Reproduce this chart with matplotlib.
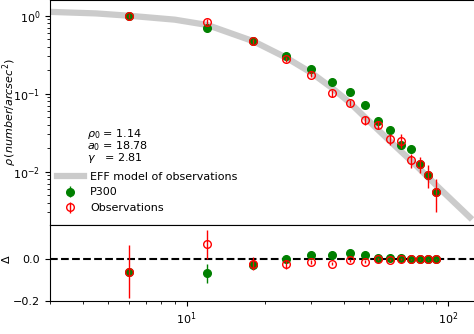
import numpy as np
import matplotlib
matplotlib.use("Agg")
import matplotlib.pyplot as plt

plt.rcParams['font.size'] = 8

# radii of the bins (arcsec)
r = [6, 12, 18, 24, 30, 36, 42, 48, 54, 60, 66, 72, 78, 84, 90]

# surface density, P300 model
rho_p300 = [1.0, 0.69, 0.47, 0.30, 0.207, 0.14, 0.106, 0.0716, 0.045,
            0.0343, 0.022, 0.0194, 0.0126, 0.0091, 0.0055]
err_p300 = [0.02, 0.02, 0.012, 0.008, 0.005, 0.004, 0.003, 0.002, 0.0015,
            0.0012, 0.001, 0.0008, 0.0006, 0.0005, 0.0004]

# surface density, observations
rho_obs = [1.0, 0.84, 0.47, 0.275, 0.175, 0.101, 0.077, 0.046, 0.0398,
           0.026, 0.025, 0.0141, 0.0126, 0.0091, 0.0055]
err_obs = [0.06, 0.075, 0.03, 0.02, 0.012, 0.01, 0.007, 0.006, 0.005,
           0.0043, 0.005, 0.003, 0.003, 0.003, 0.0025]

# EFF model curve
r_model = [3, 4.5, 6, 9, 12, 18, 24, 30, 36, 42, 48, 60, 75, 90, 121]
rho_model = [1.12, 1.07, 1.0, 0.89, 0.76, 0.47, 0.29, 0.185, 0.118, 0.077,
             0.05, 0.0245, 0.0122, 0.0067, 0.0026]

# residuals
d_p300 = [-0.059, -0.067, -0.025, 0.0, 0.019, 0.019, 0.029, 0.019, 0.005,
          0.008, 0.005, 0.002, 0.0, 0.0, 0.0]
derr_p300 = [0.01, 0.045, 0.02, 0.006, 0.005, 0.004, 0.004, 0.003, 0.003,
             0.002, 0.002, 0.002, 0.002, 0.002, 0.002]
d_obs = [-0.059, 0.072, -0.02, -0.024, -0.013, -0.021, -0.005, -0.011,
         0.002, -0.003, 0.0, 0.0, 0.0, 0.0, 0.0]
derr_obs = [0.128, 0.068, 0.03, 0.02, 0.01, 0.008, 0.006, 0.006, 0.005,
            0.005, 0.005, 0.004, 0.004, 0.004, 0.004]

fig = plt.figure(figsize=(4.74, 3.34), dpi=100)
ax1 = fig.add_axes([0.1055, 0.3263, 0.945, 0.6737])
ax2 = fig.add_axes([0.1055, 0.0988, 0.945, 0.2275], sharex=ax1)

ax1.plot(r_model, rho_model, color='#cbcbcb', lw=4.5, zorder=1,
         label='EFF model of observations')
ax1.errorbar(r, rho_p300, yerr=err_p300, fmt='o', color='green', ms=5.5,
             elinewidth=1, label='P300', zorder=2)
ax1.errorbar(r, rho_obs, yerr=err_obs, fmt='o', color='red', mfc='none',
             ms=5.5, elinewidth=1, label='Observations', zorder=3)

ax1.set_xscale('log')
ax1.set_yscale('log')
ax1.set_xlim(3.0, 155)
ax1.set_ylim(0.00207, 1.59)
ax1.set_ylabel(r'$\rho\,(number/arcsec^2)$')
ax1.yaxis.set_label_coords(-0.07, 0.5)
ax1.tick_params(axis='x', which='both', bottom=False, labelbottom=False)

ax1.text(0.0826, 0.404, r'$\rho_0$ = 1.14', transform=ax1.transAxes,
         va='center')
ax1.text(0.0826, 0.351, r'$a_0$ = 18.78', transform=ax1.transAxes,
         va='center')
ax1.text(0.0826, 0.298, r'$\gamma$   = 2.81', transform=ax1.transAxes,
         va='center')

ax1.legend(loc='upper left', bbox_to_anchor=(0.006, 0.256), frameon=False,
           borderaxespad=0, handlelength=2.4, handletextpad=0.55)

ax2.errorbar(r, d_p300, yerr=derr_p300, fmt='o', color='green', ms=5.5,
             elinewidth=1, zorder=2)
ax2.errorbar(r, d_obs, yerr=derr_obs, fmt='o', color='red', mfc='none',
             ms=5.5, elinewidth=1, zorder=3)
ax2.axhline(0, color='black', ls='--', lw=1.5, zorder=1)
ax2.set_ylim(-0.2, 0.165)
ax2.set_yticks([-0.2, 0.0])
ax2.set_ylabel(r'$\Delta$')
ax2.yaxis.set_label_coords(-0.085, 0.55)
ax2.set_xlabel(r'$r$ (arcsec)')

fig.savefig('out.png', dpi=100)
